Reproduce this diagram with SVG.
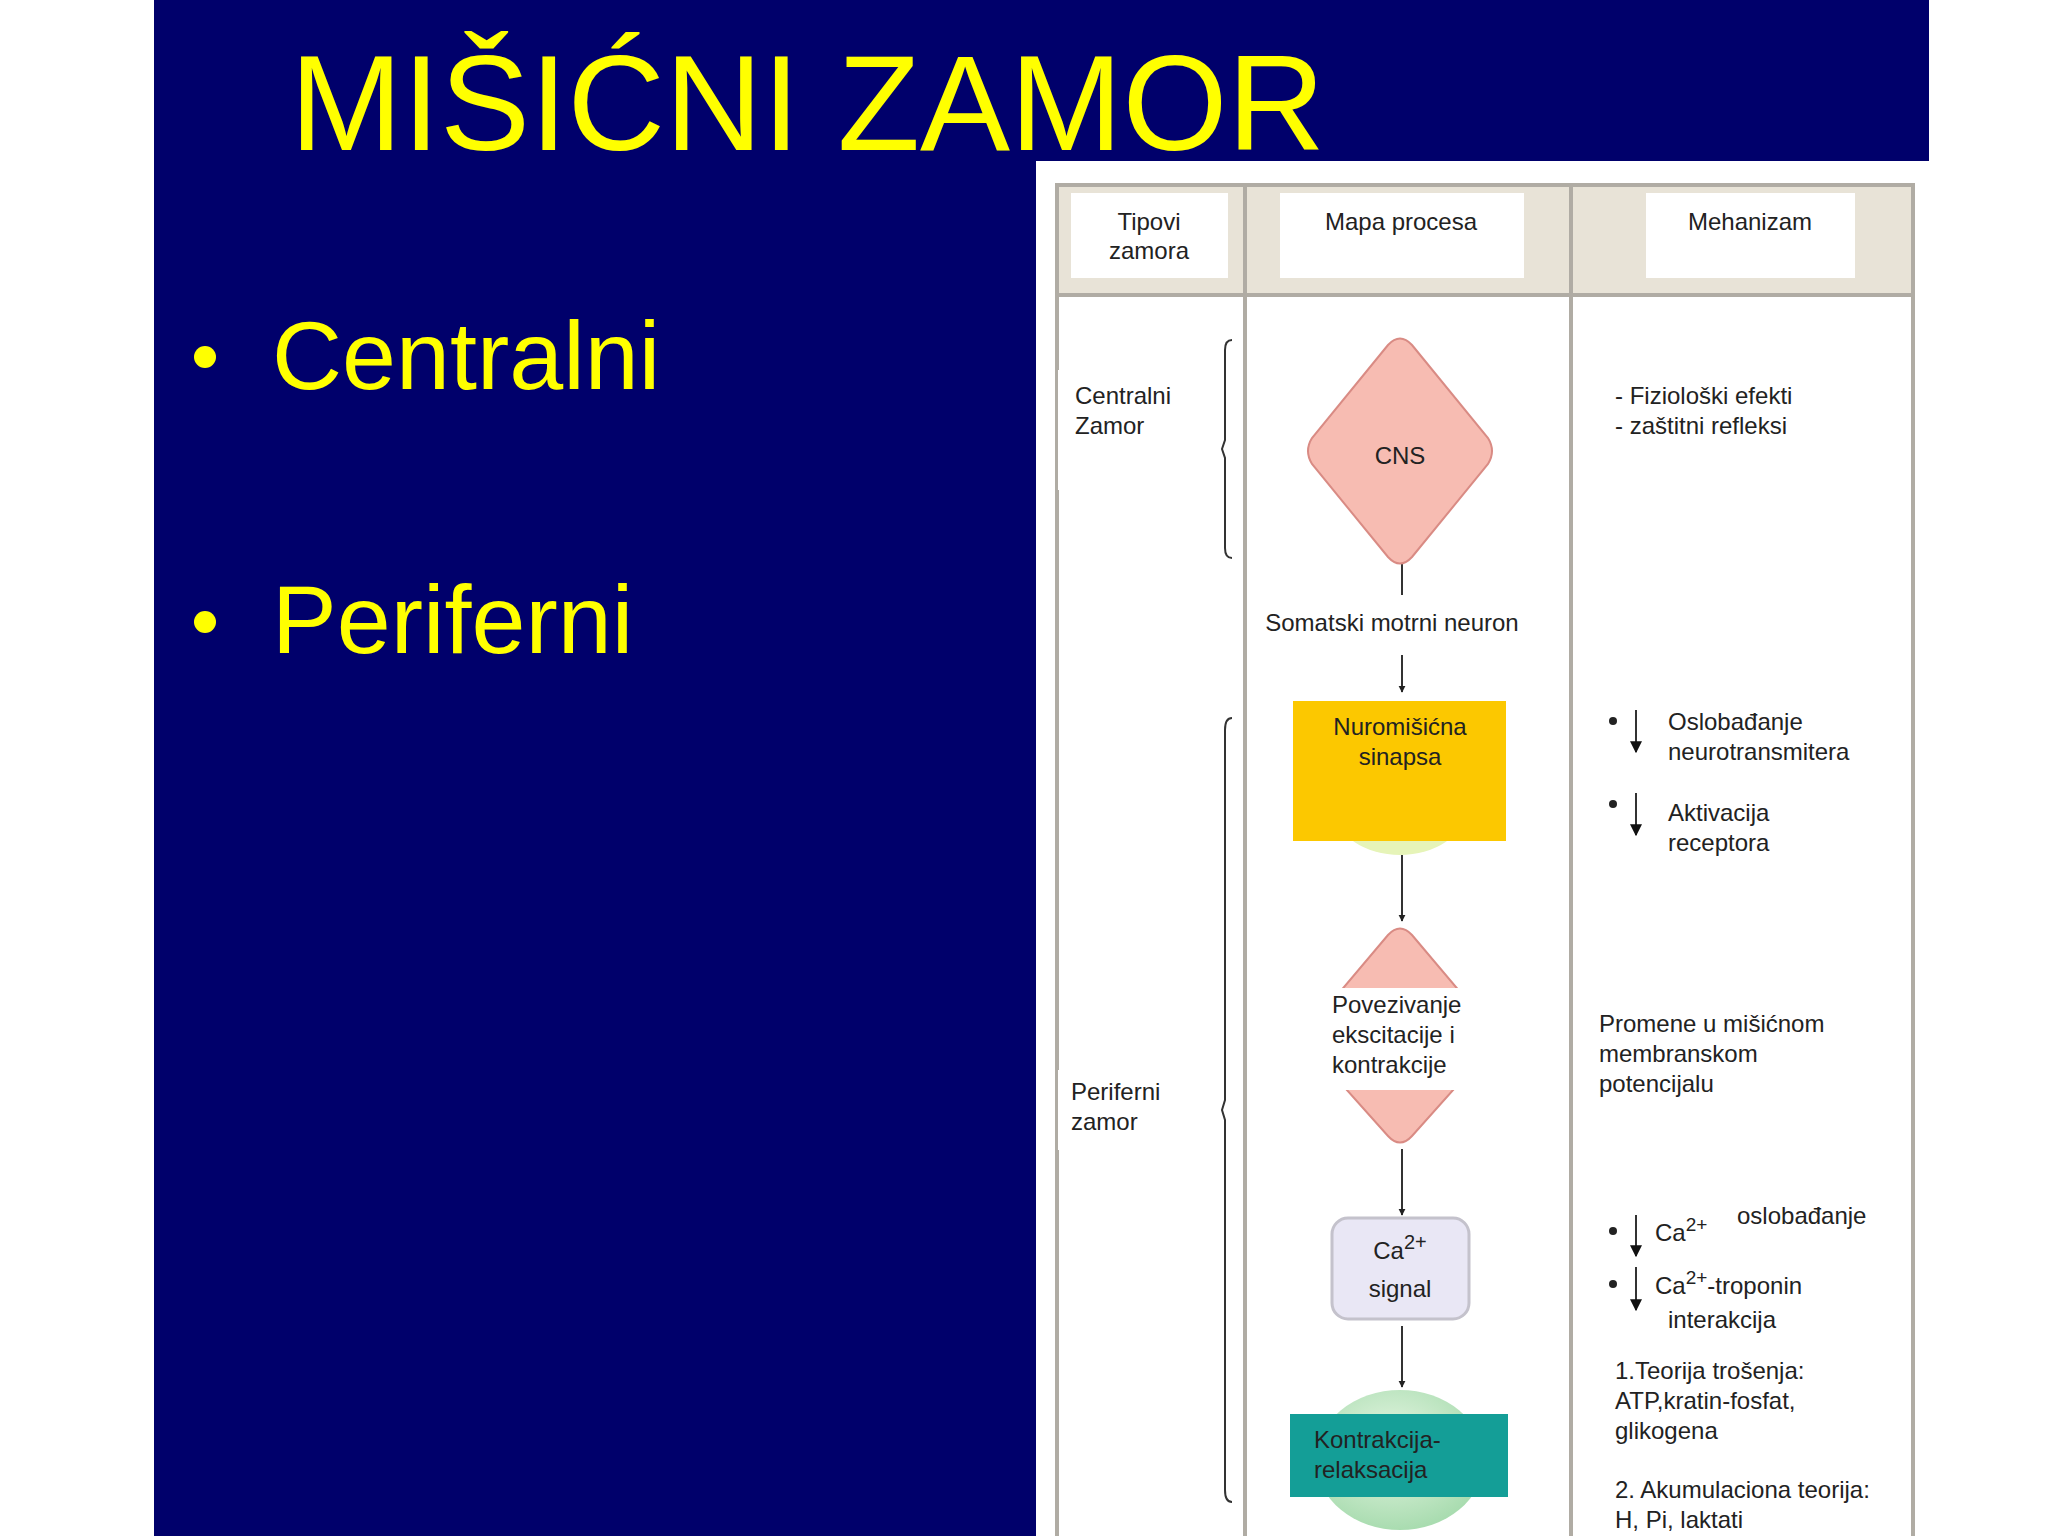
<svg xmlns="http://www.w3.org/2000/svg" width="2048" height="1536" viewBox="0 0 2048 1536">
<defs>
<style>
.t{font-family:"Liberation Sans",Arial,sans-serif;font-size:24px;fill:#222}
.c{text-anchor:middle}
.y{font-family:"Liberation Sans",Arial,sans-serif;fill:#ffff00}
.ln{stroke:#333;stroke-width:2;fill:none}
.g{fill:none;stroke:#b0aca4;stroke-width:4}
</style>
<marker id="ah" viewBox="0 0 10 10" refX="9" refY="5" markerWidth="7" markerHeight="9" orient="auto" markerUnits="userSpaceOnUse"><path d="M0,0 L10,5 L0,10 z" fill="#222"/></marker>
<marker id="dn" viewBox="0 0 10 10" refX="9" refY="5" markerWidth="12" markerHeight="14" orient="auto" markerUnits="userSpaceOnUse"><path d="M0,0 L10,5 L0,10 z" fill="#111"/></marker>
<radialGradient id="sph" cx="0.45" cy="0.4" r="0.6"><stop offset="0" stop-color="#eaf8e6"/><stop offset="1" stop-color="#a9dcb0"/></radialGradient>
</defs>
<rect width="2048" height="1536" fill="#ffffff"/>
<rect x="154" y="0" width="1775" height="1536" fill="#00006b"/>
<text class="y" x="290" y="150" font-size="135">MIŠIĆNI ZAMOR</text>
<circle cx="205" cy="357" r="11" fill="#ffff00"/>
<text class="y" x="272" y="389" font-size="97">Centralni</text>
<circle cx="205" cy="622" r="11" fill="#ffff00"/>
<text class="y" x="272" y="653" font-size="97">Periferni</text>

<rect x="1036" y="161" width="893" height="1375" fill="#ffffff"/>
<g id="table">
<rect x="1057" y="185" width="856" height="110" fill="#e8e3d7"/>
<rect x="1071" y="193" width="157" height="85" fill="#fff"/>
<rect x="1280" y="193" width="244" height="85" fill="#fff"/>
<rect x="1646" y="193" width="209" height="85" fill="#fff"/>
<path class="g" d="M1057,1536 V185 H1913 V1536 M1057,295 H1913 M1245,185 V1536 M1571,185 V1536"/>
<rect x="1250" y="595" width="270" height="60" fill="#fff"/>
<text class="t c" x="1149" y="230">Tipovi</text>
<text class="t c" x="1149" y="259">zamora</text>
<text class="t c" x="1401" y="230">Mapa procesa</text>
<text class="t c" x="1750" y="230">Mehanizam</text>
</g>

<g id="types">
<rect x="1058" y="370" width="120" height="120" fill="#fff"/>
<text class="t" x="1075" y="404">Centralni</text>
<text class="t" x="1075" y="434">Zamor</text>
<path class="ln" d="M1232,340 Q1225,340 1225,350 V440 L1222,449 L1225,458 V548 Q1225,558 1232,558"/>
<rect x="1058" y="1070" width="110" height="80" fill="#fff"/>
<text class="t" x="1071" y="1100">Periferni</text>
<text class="t" x="1071" y="1130">zamor</text>
<path class="ln" d="M1232,718 Q1225,718 1225,730 V1100 L1222,1110 L1225,1120 V1490 Q1225,1502 1232,1502"/>
</g>

<g id="connectors">
<path class="ln" d="M1402,560 V595"/>
<path class="ln" d="M1402,655 V692" marker-end="url(#ah)"/>
<path class="ln" d="M1402,855 V921" marker-end="url(#ah)"/>
<path class="ln" d="M1402,1149 V1215" marker-end="url(#ah)"/>
<path class="ln" d="M1402,1326 V1387" marker-end="url(#ah)"/>
</g>

<g id="cns">
<path d="M1388,345 Q1400,332 1412,345 L1488,438 Q1496,451 1488,464 L1412,557 Q1400,570 1388,557 L1312,464 Q1304,451 1312,438 Z" fill="#f7bcb2" stroke="#d98b84" stroke-width="2"/>
<text class="t c" x="1400" y="464" font-size="29" fill="#444">CNS</text>
</g>
<g id="somatski">
<text class="t c" x="1392" y="631">Somatski motrni neuron</text>
</g>
<g id="sinapsa">
<ellipse cx="1400" cy="810" rx="65" ry="45" fill="#e6f4b8"/>
<rect x="1293" y="701" width="213" height="140" fill="#fcc800"/>
<text class="t c" x="1400" y="735">Nuromišićna</text>
<text class="t c" x="1400" y="765">sinapsa</text>
</g>
<g id="povezivanje">
<path d="M1388,935 Q1400,922 1412,935 L1488,1025 Q1496,1038 1488,1051 L1412,1136 Q1400,1149 1388,1136 L1312,1051 Q1304,1038 1312,1025 Z" fill="#f7bcb2" stroke="#d98b84" stroke-width="2"/>
<rect x="1306" y="988" width="187" height="102" fill="#fff"/>
<text class="t" x="1332" y="1013">Povezivanje</text>
<text class="t" x="1332" y="1043">ekscitacije i</text>
<text class="t" x="1332" y="1073">kontrakcije</text>
</g>
<g id="ca">
<rect x="1332" y="1218" width="137" height="101" rx="16" fill="#e9e7f5" stroke="#c4c2cc" stroke-width="3"/>
<text class="t c" x="1400" y="1259" font-size="30" fill="#555">Ca<tspan font-size="20" dy="-10">2+</tspan></text>
<text class="t c" x="1400" y="1297" font-size="30" fill="#555">signal</text>
</g>
<g id="kontrakcija">
<ellipse cx="1400" cy="1460" rx="84" ry="70" fill="url(#sph)"/>
<rect x="1290" y="1414" width="218" height="83" fill="#149e97"/>
<text class="t" x="1314" y="1448" fill="#0e4a46">Kontrakcija-</text>
<text class="t" x="1314" y="1478" fill="#0e4a46">relaksacija</text>
</g>

<g id="mehanizam">
<text class="t" x="1615" y="404">- Fiziološki efekti</text>
<text class="t" x="1615" y="434">- zaštitni refleksi</text>
<circle cx="1613" cy="721" r="4" fill="#222"/>
<path class="ln" stroke-width="3" d="M1636,710 V752" marker-end="url(#dn)"/>
<text class="t" x="1668" y="730">Oslobađanje</text>
<text class="t" x="1668" y="760">neurotransmitera</text>
<circle cx="1613" cy="804" r="4" fill="#222"/>
<path class="ln" stroke-width="3" d="M1636,793 V835" marker-end="url(#dn)"/>
<text class="t" x="1668" y="821">Aktivacija</text>
<text class="t" x="1668" y="851">receptora</text>
<text class="t" x="1599" y="1032">Promene u mišićnom</text>
<text class="t" x="1599" y="1062">membranskom</text>
<text class="t" x="1599" y="1092">potencijalu</text>
<circle cx="1613" cy="1231" r="4" fill="#222"/>
<path class="ln" stroke-width="3" d="M1636,1215 V1256" marker-end="url(#dn)"/>
<text class="t" x="1655" y="1241" font-size="29" fill="#666">Ca<tspan font-size="19" dy="-10">2+</tspan></text>
<text class="t" x="1737" y="1224">oslobađanje</text>
<circle cx="1613" cy="1284" r="4" fill="#222"/>
<path class="ln" stroke-width="3" d="M1636,1267 V1310" marker-end="url(#dn)"/>
<text class="t" x="1655" y="1294" font-size="29" fill="#777">Ca<tspan font-size="19" dy="-10">2+</tspan><tspan dy="10">-troponin</tspan></text>
<text class="t" x="1668" y="1328">interakcija</text>
<text class="t" x="1615" y="1379">1.Teorija trošenja:</text>
<text class="t" x="1615" y="1409">ATP,kratin-fosfat,</text>
<text class="t" x="1615" y="1439">glikogena</text>
<text class="t" x="1615" y="1498">2. Akumulaciona teorija:</text>
<text class="t" x="1615" y="1528">H, Pi, laktati</text>
</g>
</svg>
